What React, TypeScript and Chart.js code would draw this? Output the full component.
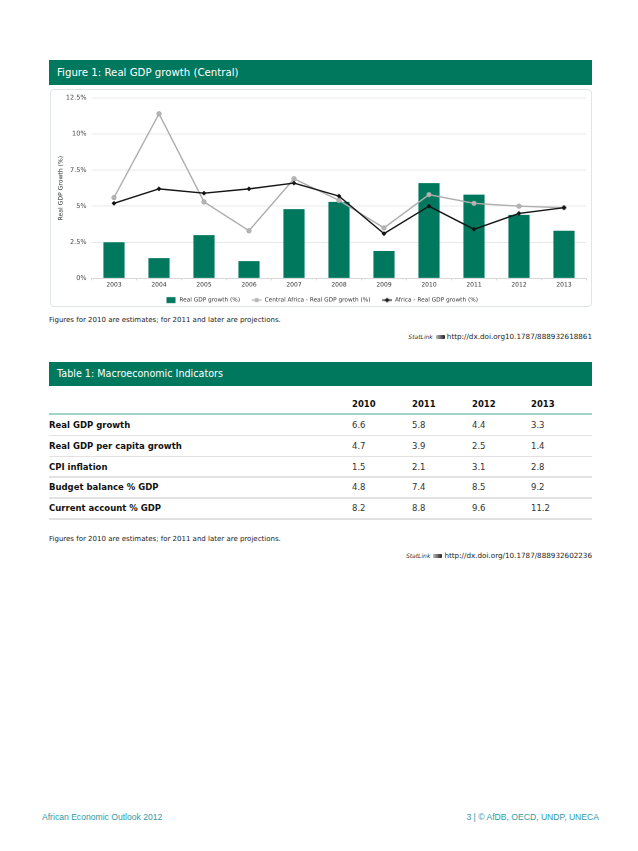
import React, { useEffect, useRef } from "react";
import Chart from "chart.js/auto";

const years = ["2003", "2004", "2005", "2006", "2007", "2008", "2009", "2010", "2011", "2012", "2013"];
const realGdpGrowth = [2.5, 1.4, 3.0, 1.2, 4.8, 5.3, 1.9, 6.6, 5.8, 4.4, 3.3];
const centralAfricaGrowth = [5.6, 11.4, 5.3, 3.3, 6.9, 5.4, 3.5, 5.8, 5.2, 5.0, 4.9];
const africaGrowth = [5.2, 6.2, 5.9, 6.2, 6.6, 5.7, 3.1, 5.0, 3.4, 4.5, 4.9];
const seriesLabels = ["Real GDP growth (%)", "Central Africa - Real GDP growth (%)", "Africa - Real GDP growth (%)"];
const yMin = 0;
const yMax = 12.5;
const yStep = 2.5;

const tableYears = ["2010", "2011", "2012", "2013"];
const tableLabels = ["Real GDP growth", "Real GDP per capita growth", "CPI inflation", "Budget balance % GDP", "Current account % GDP"];
const tableRealGdp = ["6.6", "5.8", "4.4", "3.3"];
const tablePerCapita = ["4.7", "3.9", "2.5", "1.4"];
const tableCpi = ["1.5", "2.1", "3.1", "2.8"];
const tableBudget = ["4.8", "7.4", "8.5", "9.2"];
const tableCurrent = ["8.2", "8.8", "9.6", "11.2"];
const tableValues = [tableRealGdp, tablePerCapita, tableCpi, tableBudget, tableCurrent];

const GREEN = "#00785e";
const GREY = "#aeaeae";
const BLACK = "#151515";
const FONT = "'DejaVu Sans', Verdana, sans-serif";

function makeIcon(kind: string): HTMLCanvasElement {
  const c = document.createElement("canvas");
  const w = 14;
  const h = 8;
  c.width = w;
  c.height = h;
  const ctx = c.getContext("2d")!;
  const x0 = w - 10;
  if (kind === "bar") {
    ctx.fillStyle = GREEN;
    ctx.fillRect(w - 10, 1, 9, 6);
  } else if (kind === "grey") {
    ctx.strokeStyle = GREY;
    ctx.lineWidth = 1.2;
    ctx.beginPath();
    ctx.moveTo(x0, 4);
    ctx.lineTo(w, 4);
    ctx.stroke();
    ctx.fillStyle = "#b4b4b4";
    ctx.beginPath();
    ctx.arc(x0 + 5, 4, 2.2, 0, Math.PI * 2);
    ctx.fill();
  } else {
    ctx.strokeStyle = BLACK;
    ctx.lineWidth = 1.2;
    ctx.beginPath();
    ctx.moveTo(x0, 4);
    ctx.lineTo(w, 4);
    ctx.stroke();
    ctx.fillStyle = BLACK;
    ctx.beginPath();
    ctx.moveTo(x0 + 5, 1.5);
    ctx.lineTo(x0 + 7.5, 4);
    ctx.lineTo(x0 + 5, 6.5);
    ctx.lineTo(x0 + 2.5, 4);
    ctx.closePath();
    ctx.fill();
  }
  return c;
}

function GdpChart() {
  const ref = useRef<HTMLCanvasElement | null>(null);
  useEffect(() => {
    if (!ref.current) return;
    const icons = [makeIcon("bar"), makeIcon("grey"), makeIcon("black")];
    const chart = new Chart(ref.current, {
      type: "bar",
      data: {
        labels: years,
        datasets: [
          {
            type: "bar",
            label: seriesLabels[0],
            data: realGdpGrowth,
            backgroundColor: GREEN,
            borderWidth: 0,
            barPercentage: 0.47,
            categoryPercentage: 1,
            order: 3,
          },
          {
            type: "line",
            label: seriesLabels[1],
            data: centralAfricaGrowth,
            borderColor: GREY,
            borderWidth: 1.4,
            pointStyle: "circle",
            pointRadius: 2.3,
            pointBackgroundColor: "#b4b4b4",
            pointBorderColor: "#a4a4a4",
            pointBorderWidth: 0.6,
            tension: 0,
            order: 2,
          },
          {
            type: "line",
            label: seriesLabels[2],
            data: africaGrowth,
            borderColor: BLACK,
            borderWidth: 1.4,
            pointStyle: "rectRot",
            pointRadius: 2.2,
            pointBackgroundColor: BLACK,
            pointBorderColor: BLACK,
            pointBorderWidth: 0.5,
            tension: 0,
            order: 1,
          },
        ] as any,
      },
      options: {
        responsive: false,
        animation: false,
        devicePixelRatio: 2,
        layout: { padding: { top: 7.3, left: 4, right: 5.5, bottom: 0 } },
        plugins: {
          tooltip: { enabled: false },
          legend: {
            position: "bottom",
            labels: {
              usePointStyle: true,
              pointStyleWidth: 14,
              padding: 7.6,
              color: "#333",
              font: { family: FONT, size: 5.8 },
              sort: (a: any, b: any) => a.datasetIndex - b.datasetIndex,
              generateLabels: (ch: any) => {
                const items = (Chart as any).defaults.plugins.legend.labels.generateLabels(ch);
                items.forEach((it: any) => {
                  it.pointStyle = icons[it.datasetIndex];
                });
                return items;
              },
            },
          },
        },
        scales: {
          x: {
            offset: true,
            grid: { display: true, drawOnChartArea: false, drawTicks: true, tickLength: 2, color: "#d8d8d8", offset: true },
            border: { display: true, color: "#d8d8d8" },
            ticks: { color: "#333", font: { family: FONT, size: 6 }, padding: 1, maxRotation: 0, autoSkip: false },
          },
          y: {
            min: yMin,
            max: yMax,
            afterFit: (scale: any) => {
              scale.width = 37.5;
            },
            ticks: {
              stepSize: yStep,
              color: "#444",
              padding: 5,
              font: { family: FONT, size: 6.5 },
              callback: (v: any) => `${Number(v)}%`,
            },
            grid: { color: "#e6e9eb", lineWidth: 1, drawTicks: false },
            border: { display: false },
            title: {
              display: true,
              text: "Real GDP Growth (%)",
              color: "#333",
              font: { family: FONT, size: 6.1 },
              padding: { top: 3.1, bottom: 0 },
            },
          },
        },
      } as any,
    });
    return () => chart.destroy();
  }, []);
  return <canvas ref={ref} width={542} height={224} style={{ width: 542, height: 224, display: "block" }} />;
}

const abs = (left: number, top: number, extra: React.CSSProperties = {}): React.CSSProperties => ({
  position: "absolute",
  left,
  top,
  ...extra,
});

function StatLink({ top, url }: { top: number; url: string }) {
  return (
    <div style={abs(0, top, { width: 592, textAlign: "right", fontSize: 7.2, lineHeight: "10px", color: "#222", whiteSpace: "nowrap" })}>
      <span style={{ fontStyle: "italic", fontSize: 6, color: "#333" }}>StatLink</span>
      <span
        style={{
          display: "inline-block",
          width: 9,
          height: 4,
          margin: "0 2px 0 3px",
          background: "linear-gradient(90deg, #bbb, #222)",
          borderRadius: 1,
          verticalAlign: "middle",
        }}
      />
      {url}
    </div>
  );
}

export default function App() {
  const rowTop = 414.5;
  const rowH = 20.8;
  const colX = [352, 412, 472, 531];
  return (
    <div style={{ position: "absolute", left: 0, top: 0, width: 638, height: 851, background: "#fff", fontFamily: FONT, color: "#222" }}>
      <div style={abs(49, 60, { width: 543, height: 25, background: GREEN, color: "#fff", fontSize: 10.2, lineHeight: "25px", paddingLeft: 8, boxSizing: "border-box" })}>
        Figure 1: Real GDP growth (Central)
      </div>
      <div style={abs(50, 89, { width: 542, height: 218, border: "1px solid #dfe4e7", borderRadius: 4, boxSizing: "border-box" })} />
      <div style={abs(50, 89)}>
        <GdpChart />
      </div>
      <div style={abs(49, 314.5, { fontSize: 7, lineHeight: "10px", color: "#222" })}>
        Figures for 2010 are estimates; for 2011 and later are projections.
      </div>
      <StatLink top={331.5} url="http://dx.doi.org10.1787/888932618861" />

      <div style={abs(49, 362, { width: 543, height: 24, background: GREEN, color: "#fff", fontSize: 9.6, lineHeight: "24px", paddingLeft: 8, boxSizing: "border-box" })}>
        Table 1: Macroeconomic Indicators
      </div>
      {tableYears.map((y, i) => (
        <div key={y} style={abs(colX[i], 397.5, { fontSize: 8.5, fontWeight: "bold", lineHeight: "12px", color: "#111" })}>
          {y}
        </div>
      ))}
      <div style={abs(49, rowTop - 1.5, { width: 543, height: 2, background: "#9fd4cb" })} />
      {tableLabels.map((label, r) => (
        <React.Fragment key={label}>
          <div style={abs(49, rowTop + r * rowH + 4.5, { fontSize: 8.5, fontWeight: "bold", lineHeight: "12px", color: "#111" })}>{label}</div>
          {tableValues[r].map((v, i) => (
            <div key={i} style={abs(colX[i], rowTop + r * rowH + 4.5, { fontSize: 8.5, lineHeight: "12px", color: "#333" })}>
              {v}
            </div>
          ))}
          <div style={abs(49, rowTop + (r + 1) * rowH - 0.5, { width: 543, height: 1.5, background: "#e2e2e2" })} />
        </React.Fragment>
      ))}
      <div style={abs(49, 534, { fontSize: 7, lineHeight: "10px", color: "#222" })}>
        Figures for 2010 are estimates; for 2011 and later are projections.
      </div>
      <StatLink top={551} url="http://dx.doi.org/10.1787/888932602236" />

      <div style={abs(42, 811, { fontFamily: "'Liberation Sans', Arial, sans-serif", fontSize: 8.6, lineHeight: "12px", color: "#2f9aa6" })}>
        African Economic Outlook 2012
      </div>
      <div style={abs(0, 811, { width: 599, textAlign: "right", fontFamily: "'Liberation Sans', Arial, sans-serif", fontSize: 8.6, lineHeight: "12px", color: "#2f9aa6" })}>
        3 | © AfDB, OECD, UNDP, UNECA
      </div>
    </div>
  );
}
